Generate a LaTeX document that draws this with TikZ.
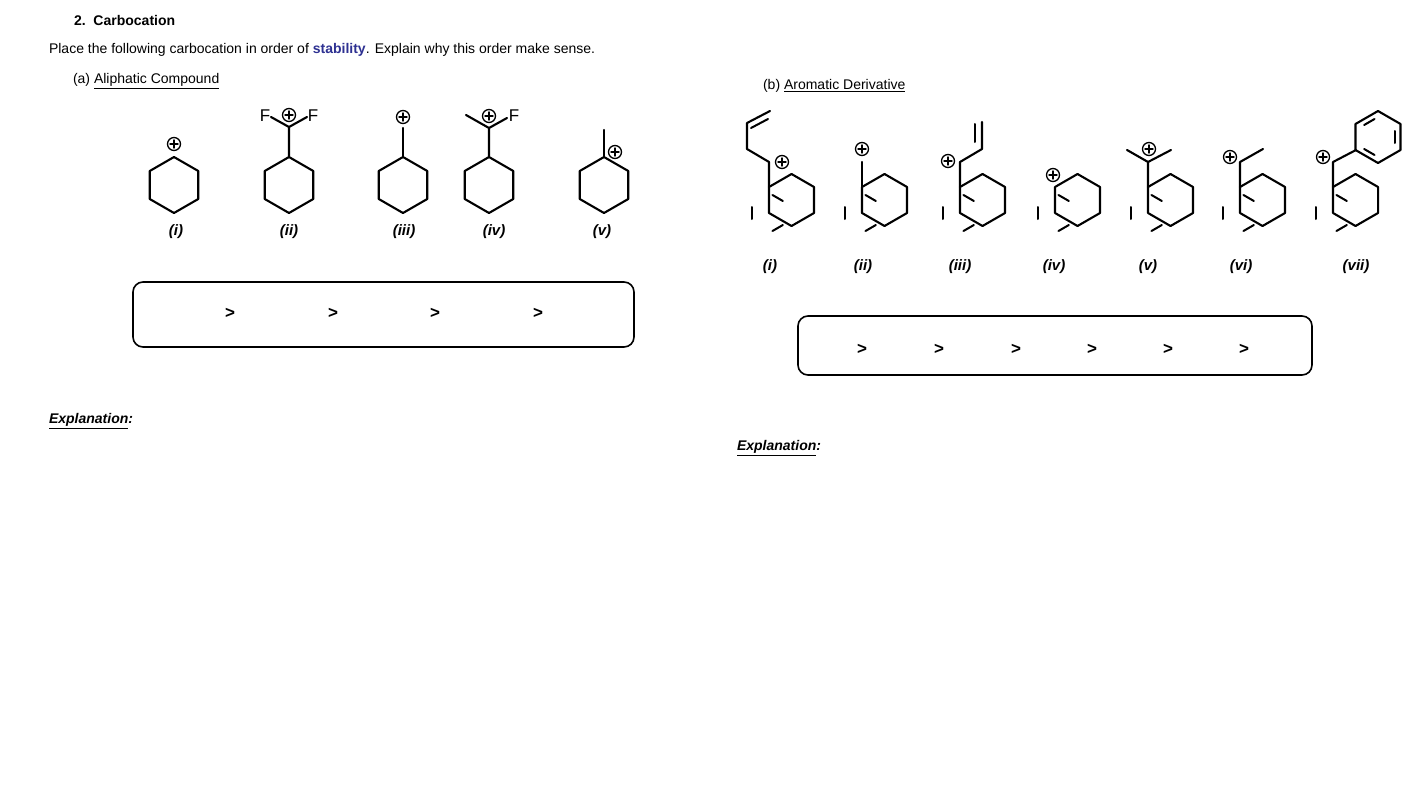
\documentclass[tikz,border=0pt]{standalone}
\usepackage{fontspec}
\setmainfont{Liberation Sans}
\usepackage{xcolor}
\usetikzlibrary{calc}
\definecolor{stab}{HTML}{2E3192}
\begin{document}
\begin{tikzpicture}[x=1pt,y=-1pt,line width=2.1pt,line join=round,line cap=round,
  txt/.style={anchor=west,inner sep=0pt,font=\fontsize{14}{16}\selectfont},
  lbl/.style={inner sep=0pt,font=\fontsize{15}{17}\selectfont\bfseries\itshape},
  gt/.style={inner sep=0pt,font=\fontsize{17}{19}\selectfont\bfseries},
  plusc/.style={circle,draw,line width=1.3pt,minimum size=13pt,inner sep=0pt},
  ansbox/.style={draw,line width=1.6pt,rounded corners=10pt}]
\useasboundingbox (0,0) rectangle (1416,800);
\fill[white] (0,0) rectangle (1416,800);
\newcommand{\hexa}[3]{%
  \draw (#1,#2)++(90:#3) -- ++(-30:#3) -- ++(-90:#3) -- ++(-150:#3) -- ++(150:#3) -- ++(90:#3) -- cycle;}
\newcommand{\pl}[3]{\node[plusc] (#3) at (#1,#2) {};
  \draw[line width=1.4pt] (#1-4,#2) -- (#1+4,#2) (#1,#2-4) -- (#1,#2+4);}
% Header text
\node[txt,font=\fontsize{14}{16}\selectfont\bfseries] (t1) at (73,20) {2.\ \ Carbocation};
\node[txt] (t2) at (48,50) {Place the following carbocation in order of \textcolor{stab}{\bfseries stability}. Explain why this order make sense.};
\node[txt] (t3) at (72,81) {(a) \underline{Aliphatic Compound}};
\node[txt] (t4) at (762,86) {(b) \underline{Aromatic Derivative}};
\node[txt,font=\fontsize{14}{16}\selectfont\bfseries\itshape] (e1) at (48,421) {\underline{Explanation}:};
\node[txt,font=\fontsize{14}{16}\selectfont\bfseries\itshape] (e2) at (736,448) {\underline{Explanation}:};
% Aliphatic
\foreach \x in {174,289,403,489,604} {\hexa{\x}{185}{28}}
\pl{174}{144}{pa1}
\draw (289,157) -- (289,127) -- (271,117) (289,127) -- (307,117);
\node[inner sep=0pt,font=\fontsize{17}{19}\selectfont] (fa) at (265,116) {F};
\node[inner sep=0pt,font=\fontsize{17}{19}\selectfont] (fb) at (313,116) {F};
\pl{289}{115}{pa2}
\draw (403,157) -- (403,128);
\pl{403}{117}{pa3}
\draw (489,157) -- (489,128) -- (466,115) (489,128) -- (507,118);
\node[inner sep=0pt,font=\fontsize{17}{19}\selectfont] (fc) at (514,116) {F};
\pl{489}{116}{pa4}
\draw (604,157) -- (604,130);
\pl{615}{152}{pa5}
\foreach \x/\t in {176/(i),289/(ii),404/(iii),494/(iv),602/(v)} {\node[lbl] at (\x,232) {\t};}
\draw[ansbox] (133,282) rectangle (634,347);
\foreach \x in {230,333,435,538} {\node[gt] at (\x,313) {>};}
% Aromatic rings
\newcommand{\bz}[2]{\draw (#1,#2)++(-90:26) -- ++(-30:26) -- ++(30:26) -- ++(90:26) -- ++(150:26) -- ++(210:26) -- cycle;
  \begin{scope}[shift={(#1,#2)},line width=2pt]
   \draw ($(-90:20)!0.2!(-30:20)$) -- ($(-90:20)!0.8!(-30:20)$);
   \draw ($(30:20)!0.2!(90:20)$) -- ($(30:20)!0.8!(90:20)$);
   \draw ($(150:20)!0.2!(210:20)$) -- ($(150:20)!0.8!(210:20)$);
  \end{scope}}
\foreach \x in {769,862,960,1055,1148,1240,1333} {\bz{\x}{213}}
% (i)
\draw (769,187) -- (769,162) -- (747,149) -- (747,123) -- (770,111);
\draw[line width=2pt] (751,128) -- (768,119);
\pl{782}{162}{pb1}
% (ii)
\draw (862,187) -- (862,162);
\pl{862}{149}{pb2}
% (iii)
\draw (960,187) -- (960,162) -- (982,149) -- (982,122);
\draw[line width=2pt] (975,142) -- (975,124);
\pl{948}{161}{pb3}
% (iv)
\pl{1053}{175}{pb4}
% (v)
\draw (1148,187) -- (1148,162) -- (1127,150) (1148,162) -- (1171,150);
\pl{1149}{149}{pb5}
% (vi)
\draw (1240,187) -- (1240,162) -- (1263,149);
\pl{1230}{157}{pb6}
% (vii)
\draw (1333,187) -- (1333,162) -- (1356,150);
\begin{scope}[shift={(1378,137)}]
\draw (210:26) -- (150:26) -- (90:26) -- (30:26) -- (-30:26) -- (-90:26) -- cycle;
\begin{scope}[line width=2pt]
\draw ($(-90:20)!0.2!(-150:20)$) -- ($(-90:20)!0.8!(-150:20)$);
\draw ($(-30:20)!0.2!(30:20)$) -- ($(-30:20)!0.8!(30:20)$);
\draw ($(90:20)!0.2!(150:20)$) -- ($(90:20)!0.8!(150:20)$);
\end{scope}
\end{scope}
\pl{1323}{157}{pb7}
\foreach \x/\t in {770/(i),863/(ii),960/(iii),1054/(iv),1148/(v),1241/(vi),1356/(vii)} {\node[lbl] at (\x,267) {\t};}
\draw[ansbox] (798,316) rectangle (1312,375);
\foreach \x in {862,939,1016,1092,1168,1244} {\node[gt] at (\x,349) {>};}
\end{tikzpicture}
\end{document}
